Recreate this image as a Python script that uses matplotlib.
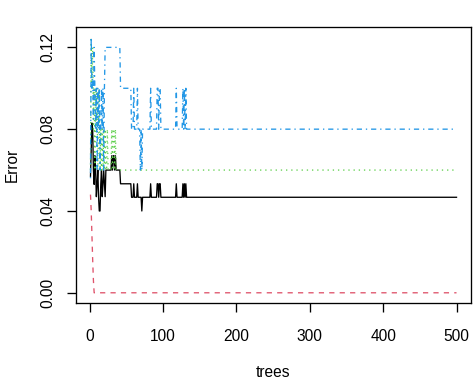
"""
randomForest 오차 곡선 (OOB + 클래스별) 재현
"""
import numpy as np
import matplotlib
matplotlib.use("Agg")
import matplotlib.pyplot as plt

plt.rcParams["font.family"] = ["Liberation Sans", "DejaVu Sans"]
plt.rcParams["lines.scale_dashes"] = False

# ── 데이터: (값, 연속 트리 수) 런 길이 형태로 그림에서 읽음 ───────────────
oob_vals = [0.057, 0.070, 0.083, 0.080, 0.060, 0.053, 0.067, 0.060, 0.047, 0.053,
            0.060, 0.047, 0.040, 0.040, 0.053, 0.060, 0.047, 0.053, 0.060, 0.053,
            0.047, 0.060,
            0.060, 0.067, 0.060, 0.067, 0.060, 0.067, 0.060, 0.0533,
            0.0467, 0.0533, 0.0467, 0.0533, 0.0467, 0.040, 0.0467,
            0.0533, 0.0467, 0.0533, 0.0467, 0.0533, 0.0467, 0.0533, 0.0467,
            0.0533, 0.0467, 0.0533, 0.0467, 0.0533, 0.0467]
oob_runs = [1] * 22 + [7, 1, 1, 2, 1, 1, 6, 15,
                       3, 1, 4, 1, 5, 1, 11,
                       1, 8, 2, 1, 2, 21, 1, 8,
                       1, 1, 1, 1, 1, 369]

c1_vals = [0.048, 0.040, 0.028, 0.016, 0.006, 0.0]
c1_runs = [1, 1, 1, 1, 1, 495]

c2_vals = [0.060, 0.125, 0.100, 0.120, 0.080, 0.100, 0.060, 0.100, 0.080, 0.100,
           0.060, 0.080, 0.100, 0.060, 0.080, 0.060, 0.080, 0.060, 0.080, 0.060,
           0.080, 0.060, 0.060, 0.080, 0.060, 0.060,
           0.060, 0.080, 0.060, 0.080, 0.060, 0.080, 0.060]
c2_runs = [1] * 26 + [3, 1, 1, 2, 1, 1, 465]

c3_vals = [0.056, 0.125, 0.100, 0.105, 0.085, 0.120, 0.100, 0.080, 0.100, 0.060,
           0.100, 0.080, 0.100, 0.060, 0.080, 0.100, 0.080, 0.100, 0.060, 0.100,
           0.120, 0.100, 0.080, 0.100, 0.080, 0.100, 0.080, 0.060, 0.080, 0.060,
           0.080, 0.100, 0.080, 0.100, 0.080, 0.100, 0.080, 0.100, 0.080,
           0.100, 0.080, 0.100, 0.080, 0.100, 0.080]
c3_runs = [1] * 20 + [21, 15, 3, 1, 4, 1, 3, 1, 1, 1,
                      11, 1, 8, 2, 1, 2, 21, 1, 8,
                      1, 1, 1, 1, 1, 369]

# R 선 종류 (lty 1~4), 단위 pt
series = [
    (oob_vals, oob_runs, "black", None),
    (c1_vals, c1_runs, "#DF536B", (0, (3.75, 3.75))),
    (c2_vals, c2_runs, "#61D04F", (0, (0.94, 2.8))),
    (c3_vals, c3_runs, "#2297E6", (0, (0.94, 2.8, 3.75, 2.8))),
]

fig = plt.figure(figsize=(4.74, 3.79), dpi=100)
ax = fig.add_axes([0.160, 0.2005, 0.834, 0.7285])

for vals, runs, color, dash in series:
    y = np.repeat(vals, runs)
    x = np.arange(1, len(y) + 1)
    kw = {} if dash is None else {"linestyle": dash}
    ax.plot(x, y, color=color, linewidth=0.95, **kw)

ax.set_xlim(-18.96, 519.96)
ax.set_ylim(-0.005, 0.130)
ax.set_xticks([0, 100, 200, 300, 400, 500])
ax.set_yticks([0.00, 0.04, 0.08, 0.12])
ax.set_yticklabels(["0.00", "0.04", "0.08", "0.12"], rotation=90, va="center")

for s in ax.spines.values():
    s.set_linewidth(0.95)
ax.tick_params(direction="out", length=6.5, width=0.95, labelsize=11.2)
ax.tick_params(axis="x", pad=12.5)
ax.tick_params(axis="y", pad=8)
ax.set_xlabel("trees", fontsize=11.2, labelpad=15)
ax.set_ylabel("Error", fontsize=11.2, labelpad=15)

fig.savefig("out.png", dpi=100)
